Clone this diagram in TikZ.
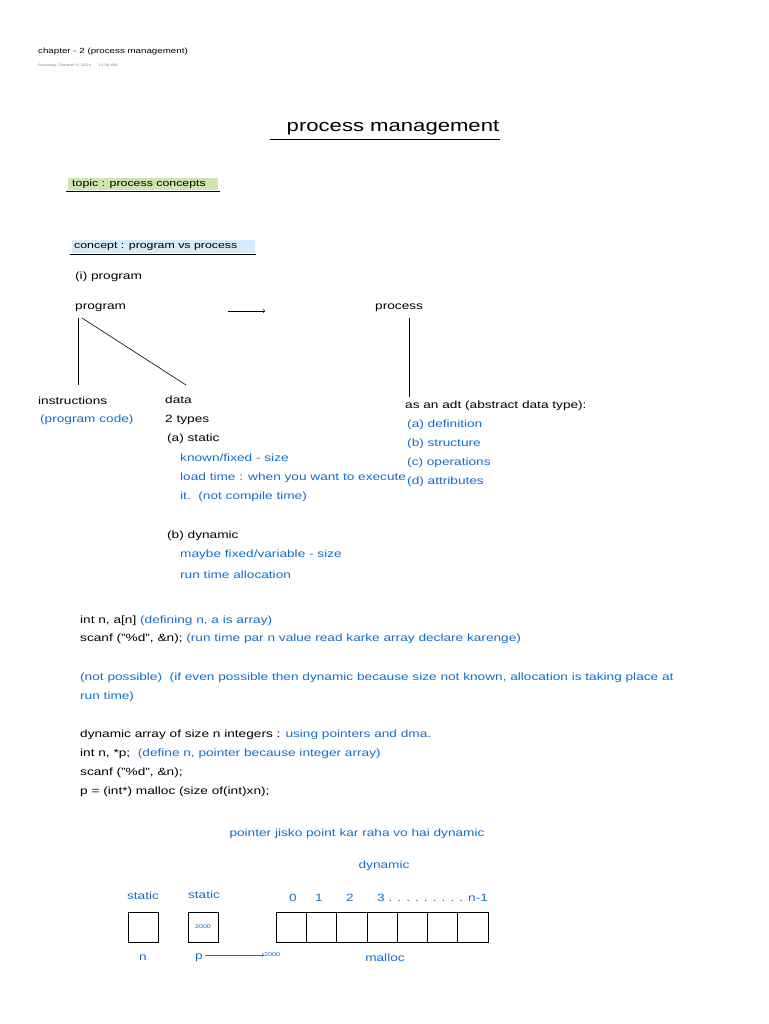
\documentclass[tikz,border=0pt]{standalone}
\usepackage{fontspec}
\setmainfont{Liberation Sans}[FakeStretch=1.3]
\begin{document}
\begin{tikzpicture}[x=1pt,y=-1pt,
  t/.style={anchor=west,inner sep=0pt,font=\fontsize{10.5}{12}\selectfont},
  b/.style={t,text=pblue},
  cell/.style={draw,minimum width=30pt,minimum height=30pt,inner sep=0pt,line width=0.7pt},
  con/.style={line width=0.6pt}]
\definecolor{pblue}{RGB}{20,110,200}
\definecolor{hgreen}{RGB}{205,230,175}
\definecolor{hblue}{RGB}{215,235,250}
\useasboundingbox (0,0) rectangle (768,1024);
\node[t,font=\fontsize{7.5}{9}\selectfont] (ch) at (38,52) {chapter - 2 (process management)};
\node[t,font=\fontsize{3.5}{4}\selectfont,text=gray] (dt) at (38,66) {Saturday, October 5, 2024\quad\quad 12:56 AM};
\node[font=\fontsize{17}{20}\selectfont,inner sep=0pt] (title) at (393,128) {process management};
\draw[con] (270,139) -- (500,139);
\fill[hgreen] (68,178) rectangle (218,190);
\node[t,font=\fontsize{9.5}{11}\selectfont] (topic) at (72,184) {topic : process concepts};
\draw[con] (66,191) -- (220,191);
\fill[hblue] (72,240) rectangle (255,253);
\node[t,font=\fontsize{9.5}{11}\selectfont] (concept) at (74,246) {concept : program vs process};
\draw[con] (70,254) -- (256,254);
\node[t] (ip) at (75,277) {(i) program};
\node[t] (prog) at (75,308) {program};
\node[t] (proc) at (375,308) {process};
\coordinate (a1) at (228,311); \coordinate (a2) at (265,311);
\draw[con,->] (a1) -- (a2);
\node[t] (instr) at (38,401) {instructions};
\node[b] at (40,420) {(program code)};
\node[t] (data) at (165,400) {data};
\draw[con] (78,318) -- (78,385);
\draw[con] (82,318) -- (186,385);
\draw[con] (409,318) -- (409,397);
\node[t] at (165,420) {2 types};
\node[t] at (167,439) {(a) static};
\node[b] at (180,458) {known/fixed - size};
\node[b] at (180,478) {load time : when you want to execute};
\node[b] at (180,497) {it.\ \ (not compile time)};
\node[t] at (167,536) {(b) dynamic};
\node[b] at (180,555) {maybe fixed/variable - size};
\node[b] at (180,575) {run time allocation};
\node[t] (adt) at (405,406) {as an adt (abstract data type):};
\node[b] at (407,425) {(a) definition};
\node[b] at (407,444) {(b) structure};
\node[b] at (407,463) {(c) operations};
\node[b] at (407,482) {(d) attributes};
\node[t] at (80,621) {int n, a[n] \textcolor{pblue}{(defining n, a is array)}};
\node[t] at (80,639) {scanf ("\%d", \&n); \textcolor{pblue}{(run time par n value read karke array declare karenge)}};
\node[b] at (80,678) {(not possible)\ \ (if even possible then dynamic because size not known, allocation is taking place at};
\node[b] at (80,697) {run time)};
\node[t] at (80,735) {dynamic array of size n integers : \textcolor{pblue}{using pointers and dma.}};
\node[t] at (80,754) {int n, *p;\ \ \textcolor{pblue}{(define n, pointer because integer array)}};
\node[t] at (80,773) {scanf ("\%d", \&n);};
\node[t] at (80,792) {p = (int*) malloc (size of(int)xn);};
\node[b,anchor=center] at (357,834) {pointer jisko point kar raha vo hai dynamic};
\node[b,anchor=center] at (384,866) {dynamic};
\node[b,anchor=center] at (143,896) {static};
\node[b,anchor=center] at (204,895) {static};
\node[cell] (bn) at (143,927) {};
\node[cell] (bp) at (203,927) {\textcolor{pblue}{\fontsize{5.5}{6}\selectfont 2000}};
\foreach \i in {0,...,6} \node[cell,minimum width=30.3pt] (c\i) at ({291.15+\i*30.3},927) {};
\node[b,anchor=center] at (293,898) {0};
\node[b,anchor=center] at (319,898) {1};
\node[b,anchor=center] at (350,898) {2};
\node[b] at (377,898) {3 . . . . . . . . . n-1};
\node[b,anchor=center] (ln) at (143,958) {n};
\node[b,anchor=center] (lp) at (199,958) {p};
\node[b,anchor=west,font=\fontsize{5.5}{6}\selectfont] (l2) at (264,955) {2000};
\draw[con,pblue,->] (lp.east) ++(2,-3) -- (l2.west);
\node[b,anchor=center] at (385,958) {malloc};
\end{tikzpicture}
\end{document}
